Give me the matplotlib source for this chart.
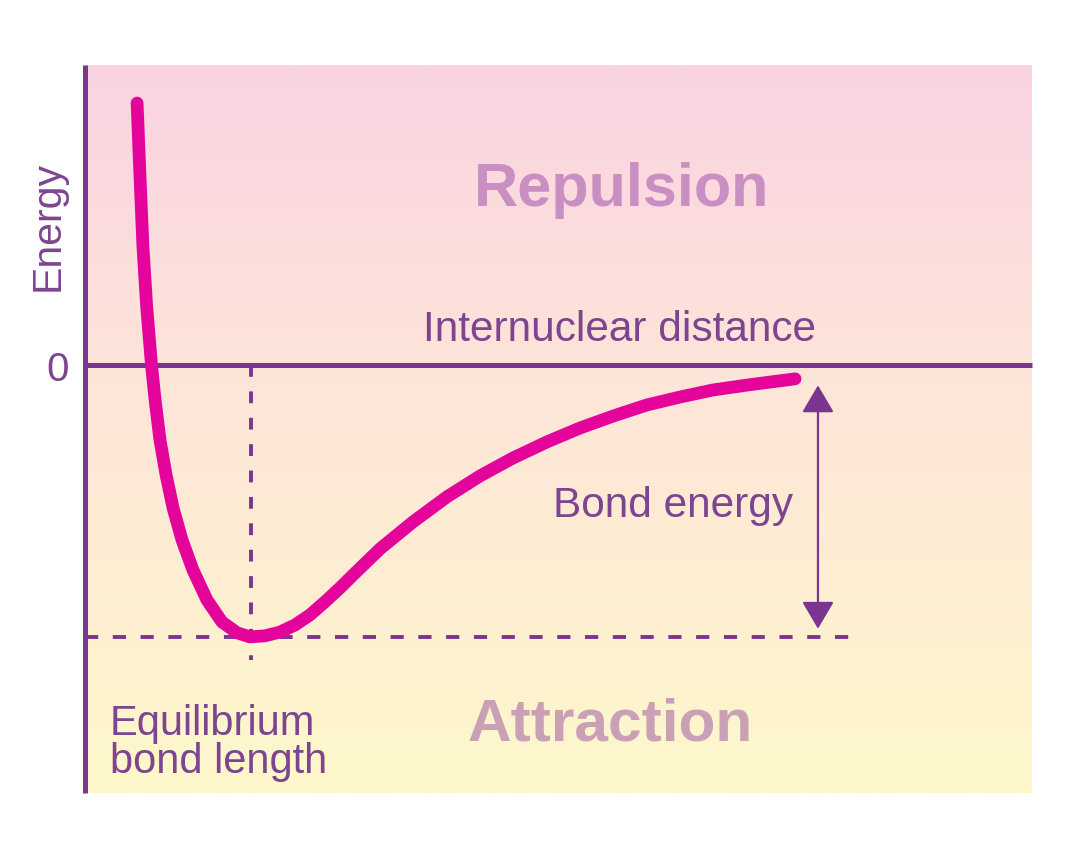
import numpy as np
import matplotlib
matplotlib.use("Agg")
import matplotlib.pyplot as plt
from matplotlib.colors import LinearSegmentedColormap

# -----------------------------
# Data
# -----------------------------
# internuclear distance (arbitrary units) and potential energy (well depth = 1)
distance = [0.275, 0.290, 0.306, 0.325, 0.351, 0.370, 0.396, 0.428, 0.465, 0.512,
            0.570, 0.644, 0.723, 0.803, 0.871, 0.950, 1.030, 1.109, 1.188, 1.267,
            1.346, 1.426, 1.558, 1.732, 1.911, 2.086, 2.260, 2.439, 2.613, 2.788,
            2.967, 3.141, 3.316, 3.495, 3.749]
energy = [0.963, 0.699, 0.434, 0.221, 0.000, -0.129, -0.276, -0.404, -0.526, -0.643,
          -0.754, -0.864, -0.945, -0.985, -1.000, -0.996, -0.982, -0.956, -0.919, -0.871,
          -0.820, -0.765, -0.676, -0.577, -0.485, -0.408, -0.342, -0.283, -0.232, -0.188,
          -0.147, -0.118, -0.092, -0.074, -0.051]

eq_length = 0.877        # equilibrium bond length
well_depth = -1.0        # bond energy level
arrow_x = 3.870          # where the bond-energy arrow sits
arrow_top = -0.075
dashed_end = 4.066
vline_bottom = -1.085

XLIM = (0.0, 5.0)
YLIM = (-1.574, 1.103)

PURPLE = "#7b3590"
TEXT = "#7d4590"
MAGENTA = "#e4049b"

plt.rcParams["font.family"] = ["Liberation Sans", "DejaVu Sans"]
plt.rcParams["lines.scale_dashes"] = False

fig = plt.figure(figsize=(10.8, 8.48), dpi=100)
fig.patch.set_facecolor("white")
ax = fig.add_axes([85 / 1080, 55 / 848, 947 / 1080, 728 / 848])
ax.set_xlim(*XLIM)
ax.set_ylim(*YLIM)
ax.axis("off")

# background gradient: pink at top -> pale yellow at bottom
bg = LinearSegmentedColormap.from_list(
    "bg", [(0.0, "#fef8cb"), (0.59, "#fde4d9"), (1.0, "#fad3e2")])
grad = np.linspace(0, 1, 256).reshape(-1, 1)
ax.imshow(grad, cmap=bg, origin="lower", aspect="auto",
          extent=[XLIM[0], XLIM[1], YLIM[0], YLIM[1]], zorder=0)

# axes lines
ax.plot([0, 0], [YLIM[0], YLIM[1]], color=PURPLE, lw=3.6, solid_capstyle="butt",
        zorder=3, clip_on=False)
ax.plot([0, XLIM[1]], [0, 0], color=PURPLE, lw=3.6, solid_capstyle="butt",
        zorder=3, clip_on=False)

# dashed guides
ax.plot([0, dashed_end], [well_depth, well_depth], color=PURPLE, lw=2.8,
        dashes=(9.5, 10.5), dash_capstyle="butt", zorder=2)
ax.plot([eq_length, eq_length], [0, vline_bottom], color=PURPLE, lw=2.8,
        dashes=(8.5, 10.5), dash_capstyle="butt", zorder=2)

# potential energy curve
ax.plot(distance, energy, color=MAGENTA, lw=9.2, solid_capstyle="round",
        solid_joinstyle="round", zorder=4)

# bond energy arrow
ax.annotate("", xy=(arrow_x, well_depth + 0.03), xytext=(arrow_x, arrow_top),
            arrowprops=dict(arrowstyle="<|-|>,head_length=0.85,head_width=0.5",
                            mutation_scale=20, color=PURPLE, lw=1.6,
                            shrinkA=0, shrinkB=0),
            zorder=3)

# labels
ax.text(-0.195, 0.51, "Energy", rotation=90, ha="center", va="center",
        fontsize=29.5, color=TEXT, clip_on=False)
ax.text(-0.145, -0.02, "0", ha="center", va="center", fontsize=29, color=TEXT,
        clip_on=False)
ax.text(2.82, 0.055, "Internuclear distance", ha="center", va="bottom",
        fontsize=30.5, color=TEXT)
ax.text(3.74, -0.52, "Bond energy", ha="right", va="center", fontsize=30.5,
        color=TEXT)
ax.text(0.13, -1.32, "Equilibrium", ha="left", va="center", fontsize=30,
        color=TEXT)
ax.text(0.13, -1.46, "bond length", ha="left", va="center", fontsize=30,
        color=TEXT)
ax.text(2.835, 0.64, "Repulsion", ha="center", va="center", fontsize=44,
        fontweight="bold", color="#c98ec2")
ax.text(2.772, -1.325, "Attraction", ha="center", va="center", fontsize=43.5,
        fontweight="bold", color="#c9a0b6")

fig.savefig("out.png", dpi=100, facecolor="white")
